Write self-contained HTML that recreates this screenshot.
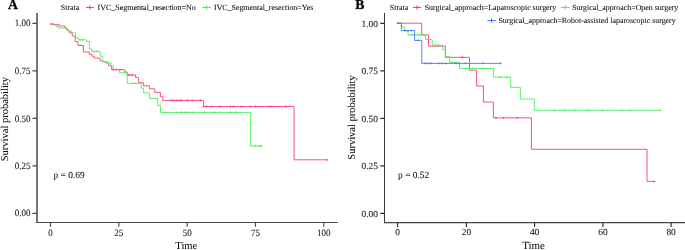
<!DOCTYPE html>
<html lang="en"><head><meta charset="utf-8"><title>Survival curves</title>
<style>html,body{margin:0;padding:0;background:#fff}body{width:685px;height:250px;overflow:hidden}svg text{font-family:"Liberation Serif","Times New Roman",serif;stroke:#000;stroke-width:0.07px}svg text.pl{stroke-width:0.25px}</style></head>
<body>
<svg width="685" height="250" viewBox="0 0 685 250" style="display:block" text-rendering="geometricPrecision">
<rect width="685" height="250" fill="#fff"/>
<path d="M37.0,13 V223.07" stroke="#76767a" stroke-width="2.0" fill="none"/>
<path d="M36.00,222.5 H337.7" stroke="#4c4c50" stroke-width="1.15" fill="none"/>
<path d="M32.40,23.3H37.0M32.40,70.85H37.0M32.40,118.4H37.0M32.40,165.9H37.0M32.40,213.3H37.0M50.5,222.5V226.8M118.85,222.5V226.8M187.15,222.5V226.8M255.45,222.5V226.8M323.75,222.5V226.8" stroke="#4a4a4a" stroke-width="1.15" fill="none"/>
<text transform="translate(30.6,26.45) scale(1,1.07)" font-size="9.0" text-anchor="end"  fill="#1a1a1a">1.00</text>
<text transform="translate(30.6,74.00) scale(1,1.07)" font-size="9.0" text-anchor="end"  fill="#1a1a1a">0.75</text>
<text transform="translate(30.6,121.55) scale(1,1.07)" font-size="9.0" text-anchor="end"  fill="#1a1a1a">0.50</text>
<text transform="translate(30.6,169.05) scale(1,1.07)" font-size="9.0" text-anchor="end"  fill="#1a1a1a">0.25</text>
<text transform="translate(30.6,216.45) scale(1,1.07)" font-size="9.0" text-anchor="end"  fill="#1a1a1a">0.00</text>
<text transform="translate(50.5,236.1) scale(1,1.07)" font-size="9.0" text-anchor="middle"  fill="#1a1a1a">0</text>
<text transform="translate(118.85,236.1) scale(1,1.07)" font-size="9.0" text-anchor="middle"  fill="#1a1a1a">25</text>
<text transform="translate(187.15,236.1) scale(1,1.07)" font-size="9.0" text-anchor="middle"  fill="#1a1a1a">50</text>
<text transform="translate(255.45,236.1) scale(1,1.07)" font-size="9.0" text-anchor="middle"  fill="#1a1a1a">75</text>
<text transform="translate(323.75,236.1) scale(1,1.07)" font-size="9.0" text-anchor="middle"  fill="#1a1a1a">100</text>
<text x="7.9" y="9.45" font-size="13.7" font-weight="bold" class="pl" fill="#000">A</text>
<text x="60.8" y="10.2" font-size="7.9"  fill="#111">Strata</text>
<path d="M86.0,7.45h7.8M89.9,5.3v4.3" stroke="#f9346c" stroke-width="1" fill="none"/>
<text x="97.6" y="10.2" font-size="7.96"  fill="#111">IVC_Segmental_resection=No</text>
<path d="M202.3,7.45h8.6M206.6,5.3v4.3" stroke="#3df25c" stroke-width="1" fill="none"/>
<text x="214" y="10.2" font-size="7.9"  fill="#111">IVC_Segmental_resection=Yes</text>
<text transform="translate(8.0,119.1) rotate(-90)" font-size="10.5" text-anchor="middle"  fill="#111">Survival probability</text>
<text x="186.3" y="248.9" font-size="10.6" text-anchor="middle"  fill="#111">Time</text>
<text x="53.5" y="178.2" font-size="9.4"  fill="#111">p = 0.69</text>
<path d="M50.4,23.4 L50.6,23.4 L50.6,24.4 L59.0,24.4 L59.0,26.0 L65.0,26.0 L65.0,28.1 L67.2,28.1 L67.2,30.8 L69.6,30.8 L69.6,32.8 L72.2,32.8 L72.2,36.0 L75.2,36.0 L75.2,41.6 L77.4,41.6 L78.0,41.6 L78.0,45.4 L83.4,45.4 L83.4,52.0 L87.0,52.0 L89.4,52.0 L89.4,54.4 L91.8,54.4 L91.8,56.2 L94.2,56.2 L94.2,58.0 L99.6,58.0 L99.6,58.6 L100.2,58.6 L100.2,61.0 L102.6,61.0 L102.6,61.6 L105.0,61.6 L105.0,62.2 L107.4,62.2 L107.4,63.4 L108.6,63.4 L108.6,65.8 L111.0,65.8 L111.0,66.2 L111.6,66.2 L111.6,69.6 L124.2,69.6 L124.8,69.6 L124.8,72.0 L127.2,72.0 L127.2,72.6 L127.2,75.0 L135.0,75.0 L135.6,75.0 L135.6,77.4 L138.0,77.4 L138.0,78.0 L138.6,78.0 L138.6,82.8 L143.4,82.8 L143.4,85.8 L149.4,85.8 L149.4,88.8 L154.8,88.8 L154.8,92.4 L160.2,92.4 L160.4,92.4 L160.4,96.6 L162.6,96.6 L162.8,96.6 L162.8,100.4 L203.6,100.4 L203.6,106.5 L294.1,106.5 L294.1,159.8 L327.5,159.8" stroke="#f9346c" stroke-width="0.85" fill="none"/>
<path d="M50.4,23.4 L53.6,23.4 L53.6,25.0 L56.0,25.0 L56.0,26.4 L58.0,26.4 L58.0,28.0 L67.2,28.0 L67.2,30.0 L69.2,30.0 L69.2,31.2 L72.0,31.2 L72.0,32.8 L75.6,32.8 L75.6,37.4 L78.0,37.4 L78.0,39.8 L86.6,39.8 L86.6,41.5 L89.4,41.5 L89.4,49.0 L91.2,49.0 L91.8,49.0 L91.8,51.4 L100.2,51.4 L100.2,56.2 L102.8,56.2 L102.8,61.6 L105.0,61.6 L106.8,61.6 L106.8,62.8 L108.6,62.8 L111.0,62.8 L111.0,65.8 L113.4,65.8 L113.4,69.6 L118.8,69.6 L119.4,69.6 L119.4,72.6 L127.2,72.6 L127.2,83.4 L140.4,83.4 L141.0,83.4 L141.0,88.2 L143.4,88.2 L143.6,88.2 L143.6,92.8 L148.8,92.8 L149.4,92.8 L149.4,98.5 L157.4,98.5 L157.7,98.5 L157.7,105.4 L160.2,105.4 L160.5,105.4 L160.5,112.4 L250.4,112.4 L250.4,146.0 L261.8,146.0" stroke="#3df25c" stroke-width="0.85" fill="none"/>
<path d="M169.8,100.4h2.4M171.0,99.2v2.4M172.4,100.4h2.4M173.6,99.2v2.4M175.2,100.4h2.4M176.4,99.2v2.4M178.2,100.4h2.4M179.4,99.2v2.4M180.2,100.4h2.4M181.4,99.2v2.4M186.4,100.4h2.4M187.6,99.2v2.4M191.2,100.4h2.4M192.4,99.2v2.4M199.2,100.4h2.4M200.4,99.2v2.4" stroke="#f9346c" stroke-width="0.55" fill="none"/>
<path d="M202.6,106.5h2.4M203.8,105.3v2.4M205.3,106.5h2.4M206.5,105.3v2.4M210.3,106.5h2.4M211.5,105.3v2.4M218.6,106.5h2.4M219.8,105.3v2.4M229.3,106.5h2.4M230.5,105.3v2.4M232.2,106.5h2.4M233.4,105.3v2.4M240.2,106.5h2.4M241.4,105.3v2.4M249.0,106.5h2.4M250.2,105.3v2.4M254.3,106.5h2.4M255.5,105.3v2.4M268.2,106.5h2.4M269.4,105.3v2.4M270.6,106.5h2.4M271.8,105.3v2.4" stroke="#f9346c" stroke-width="0.55" fill="none"/>
<path d="M325.7,159.8h2.4M326.9,158.6v2.4" stroke="#f9346c" stroke-width="0.55" fill="none"/>
<path d="M284.5,106.5h2.4M285.7,105.3v2.4" stroke="#f9346c" stroke-width="0.55" fill="none"/>
<path d="M111.8,69.6h2.4M113.0,68.4v2.4M115.3,69.6h2.4M116.5,68.4v2.4M118.8,69.6h2.4M120.0,68.4v2.4" stroke="#f9346c" stroke-width="0.55" fill="none"/>
<path d="M127.8,75.0h2.4M129.0,73.8v2.4M130.8,75.0h2.4M132.0,73.8v2.4" stroke="#f9346c" stroke-width="0.55" fill="none"/>
<path d="M164.2,112.4h2.4M165.4,111.2v2.4M175.2,112.4h2.4M176.4,111.2v2.4M180.2,112.4h2.4M181.4,111.2v2.4M183.2,112.4h2.4M184.4,111.2v2.4M186.4,112.4h2.4M187.6,111.2v2.4M191.2,112.4h2.4M192.4,111.2v2.4M202.6,112.4h2.4M203.8,111.2v2.4M213.3,112.4h2.4M214.5,111.2v2.4M229.3,112.4h2.4M230.5,111.2v2.4M235.1,112.4h2.4M236.3,111.2v2.4" stroke="#3df25c" stroke-width="0.55" fill="none"/>
<path d="M254.2,146.0h2.4M255.4,144.8v2.4M258.4,146.0h2.4M259.6,144.8v2.4M260.6,146.0h2.4M261.8,144.8v2.4" stroke="#3df25c" stroke-width="0.55" fill="none"/>
<path d="M131.4,83.4h2.4M132.6,82.2v2.4M134.4,83.4h2.4M135.6,82.2v2.4" stroke="#3df25c" stroke-width="0.55" fill="none"/>
<path d="M78.8,39.8h2.4M80.0,38.6v2.4M81.8,39.8h2.4M83.0,38.6v2.4" stroke="#3df25c" stroke-width="0.55" fill="none"/>
<path d="M92.8,51.4h2.4M94.0,50.2v2.4M95.8,51.4h2.4M97.0,50.2v2.4" stroke="#3df25c" stroke-width="0.55" fill="none"/>
<path d="M384.5,13 V223.15" stroke="#38383c" stroke-width="1.05" fill="none"/>
<path d="M383.98,222.55 H685" stroke="#444448" stroke-width="1.2" fill="none"/>
<path d="M380.38,23.3H384.5M380.38,70.8H384.5M380.38,118.3H384.5M380.38,165.8H384.5M380.38,213.3H384.5M397.6,222.55V226.9M466.4,222.55V226.9M534.6,222.55V226.9M602.9,222.55V226.9M671.1,222.55V226.9" stroke="#2a2a2a" stroke-width="1.15" fill="none"/>
<text transform="translate(377.9,26.50) scale(1,1.0)" font-size="9.4" text-anchor="end"  fill="#1a1a1a">1.00</text>
<text transform="translate(377.9,74.00) scale(1,1.0)" font-size="9.4" text-anchor="end"  fill="#1a1a1a">0.75</text>
<text transform="translate(377.9,121.50) scale(1,1.0)" font-size="9.4" text-anchor="end"  fill="#1a1a1a">0.50</text>
<text transform="translate(377.9,169.00) scale(1,1.0)" font-size="9.4" text-anchor="end"  fill="#1a1a1a">0.25</text>
<text transform="translate(377.9,216.50) scale(1,1.0)" font-size="9.4" text-anchor="end"  fill="#1a1a1a">0.00</text>
<text transform="translate(397.6,235.25) scale(1,1.0)" font-size="9.4" text-anchor="middle"  fill="#1a1a1a">0</text>
<text transform="translate(466.4,235.25) scale(1,1.0)" font-size="9.4" text-anchor="middle"  fill="#1a1a1a">20</text>
<text transform="translate(534.6,235.25) scale(1,1.0)" font-size="9.4" text-anchor="middle"  fill="#1a1a1a">40</text>
<text transform="translate(602.9,235.25) scale(1,1.0)" font-size="9.4" text-anchor="middle"  fill="#1a1a1a">60</text>
<text transform="translate(671.1,235.25) scale(1,1.0)" font-size="9.4" text-anchor="middle"  fill="#1a1a1a">80</text>
<text x="355.3" y="9.45" font-size="13.7" font-weight="bold" class="pl" fill="#000">B</text>
<text x="389.8" y="10.2" font-size="7.9"  fill="#111">Strata</text>
<path d="M412.9,7.45h8.3M417,5.3v4.3" stroke="#f9346c" stroke-width="1" fill="none"/>
<text x="424.7" y="10.2" font-size="7.9"  fill="#111">Surgical_approach=Laparoscopic surgery</text>
<path d="M561.2,7.45h8.3M565.3,5.3v4.3" stroke="#3df25c" stroke-width="1" fill="none"/>
<text x="572.2" y="10.2" font-size="7.9"  fill="#111">Surgical_approach=Open surgery</text>
<path d="M487.4,20.6h8.3M491.5,18.5v4.2" stroke="#4470fa" stroke-width="1" fill="none"/>
<text x="498.4" y="23.4" font-size="7.9"  fill="#111">Surgical_approach=Robot-assisted laparoscopic surgery</text>
<text transform="translate(354.9,117.5) rotate(-90)" font-size="10.5" text-anchor="middle"  fill="#111">Survival probability</text>
<text x="533.5" y="248.6" font-size="10.9" text-anchor="middle"  fill="#111">Time</text>
<text x="398.1" y="178.45" font-size="9.4"  fill="#111">p = 0.52</text>
<path d="M397.6,23.2 L421.7,23.2 L421.7,35.0 L428.5,35.0 L428.5,46.2 L445.3,46.2 L445.3,57.3 L469.5,57.3 L469.5,70.2 L476.6,70.2 L476.6,86.0 L483.4,86.0 L483.4,102.0 L493.4,102.0 L493.4,117.9 L531.4,117.9 L531.4,149.3 L647.0,149.3 L647.0,181.4 L654.7,181.4" stroke="#f9346c" stroke-width="0.85" fill="none"/>
<path d="M397.6,23.2 L401.4,23.2 L401.4,27.0 L404.6,27.0 L404.6,30.6 L408.0,30.6 L408.0,34.9 L425.5,34.9 L425.5,39.5 L432.2,39.5 L432.2,45.2 L442.6,45.2 L442.6,49.8 L445.6,49.8 L445.6,56.4 L449.6,56.4 L449.6,62.4 L459.5,62.4 L459.5,68.5 L493.4,68.5 L493.4,77.1 L510.7,77.1 L510.7,87.4 L520.4,87.4 L520.4,99.0 L534.4,99.0 L534.4,110.3 L660.8,110.3" stroke="#3df25c" stroke-width="0.85" fill="none"/>
<path d="M397.2,23.2 L401.4,23.2 L401.4,30.6 L414.6,30.6 L414.6,40.4 L421.8,40.4 L421.8,63.4 L500.8,63.4" stroke="#4470fa" stroke-width="0.85" fill="none"/>
<path d="M461.2,57.3h2.4M462.4,56.1v2.4" stroke="#f9346c" stroke-width="0.55" fill="none"/>
<path d="M494.8,117.9h2.4M496.0,116.7v2.4M502.2,117.9h2.4M503.4,116.7v2.4M516.2,117.9h2.4M517.4,116.7v2.4" stroke="#f9346c" stroke-width="0.55" fill="none"/>
<path d="M653.1,181.4h2.4M654.3,180.2v2.4" stroke="#f9346c" stroke-width="0.55" fill="none"/>
<path d="M410.8,34.9h2.4M412.0,33.7v2.4M414.8,34.9h2.4M416.0,33.7v2.4M418.3,34.9h2.4M419.5,33.7v2.4M421.3,34.9h2.4M422.5,33.7v2.4" stroke="#3df25c" stroke-width="0.55" fill="none"/>
<path d="M434.0,45.2h2.4M435.2,44.0v2.4M437.2,45.2h2.4M438.4,44.0v2.4" stroke="#3df25c" stroke-width="0.55" fill="none"/>
<path d="M451.2,62.4h2.4M452.4,61.2v2.4" stroke="#3df25c" stroke-width="0.55" fill="none"/>
<path d="M464.8,68.5h2.4M466.0,67.3v2.4M471.6,68.5h2.4M472.8,67.3v2.4M482.0,68.5h2.4M483.2,67.3v2.4" stroke="#3df25c" stroke-width="0.55" fill="none"/>
<path d="M498.8,77.1h2.4M500.0,75.9v2.4M505.4,77.1h2.4M506.6,75.9v2.4" stroke="#3df25c" stroke-width="0.55" fill="none"/>
<path d="M552.8,110.3h2.4M554.0,109.1v2.4M563.6,110.3h2.4M564.8,109.1v2.4M574.0,110.3h2.4M575.2,109.1v2.4M586.8,110.3h2.4M588.0,109.1v2.4M600.8,110.3h2.4M602.0,109.1v2.4M620.8,110.3h2.4M622.0,109.1v2.4M628.8,110.3h2.4M630.0,109.1v2.4M658.8,110.3h2.4M660.0,109.1v2.4" stroke="#3df25c" stroke-width="0.55" fill="none"/>
<path d="M396.4,23.2h2.4M397.6,22.0v2.4" stroke="#4470fa" stroke-width="0.55" fill="none"/>
<path d="M403.8,30.6h2.4M405.0,29.4v2.4M406.8,30.6h2.4M408.0,29.4v2.4M410.3,30.6h2.4M411.5,29.4v2.4" stroke="#4470fa" stroke-width="0.55" fill="none"/>
<path d="M416.8,40.4h2.4M418.0,39.2v2.4" stroke="#4470fa" stroke-width="0.55" fill="none"/>
<path d="M424.0,63.4h2.4M425.2,62.2v2.4M427.2,63.4h2.4M428.4,62.2v2.4M430.0,63.4h2.4M431.2,62.2v2.4M437.2,63.4h2.4M438.4,62.2v2.4M440.8,63.4h2.4M442.0,62.2v2.4M444.4,63.4h2.4M445.6,62.2v2.4M454.6,63.4h2.4M455.8,62.2v2.4M464.4,63.4h2.4M465.6,62.2v2.4M482.0,63.4h2.4M483.2,62.2v2.4M499.4,63.4h2.4M500.6,62.2v2.4" stroke="#4470fa" stroke-width="0.55" fill="none"/>
</svg>
</body></html>
